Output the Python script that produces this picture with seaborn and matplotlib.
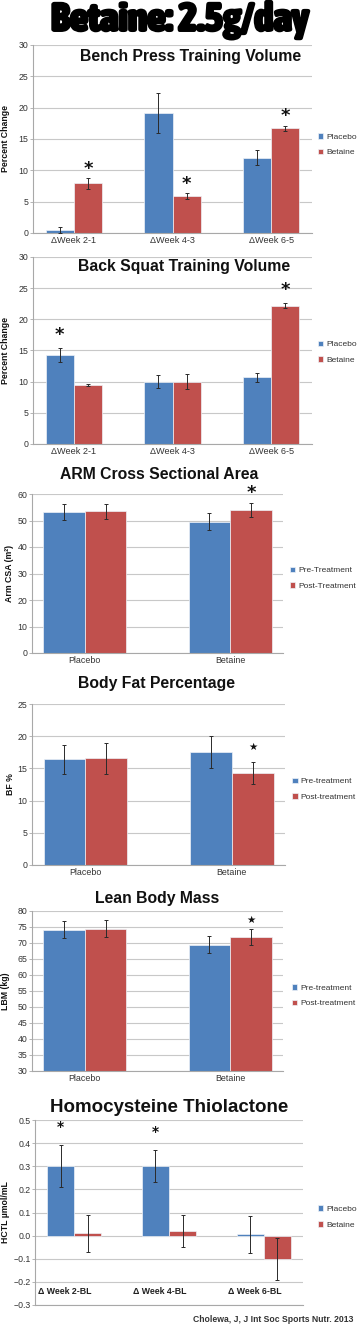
import numpy as np
import pandas as pd
import matplotlib
matplotlib.use('Agg')
import matplotlib.pyplot as plt
import matplotlib.patheffects as pe
from matplotlib import font_manager
import seaborn as sns

# Bench press training volume (percent change)
bench_cats = ['\u0394Week 2-1', '\u0394Week 4-3', '\u0394Week 6-5']
bench_placebo = [0.5, 19.2, 12.0]
bench_placebo_err = [0.5, 3.2, 1.2]
bench_betaine = [7.9, 5.9, 16.7]
bench_betaine_err = [0.8, 0.45, 0.45]
bench_stars = [(1, 0), (1, 1), (1, 2)]

# Back squat training volume (percent change)
squat_cats = ['\u0394Week 2-1', '\u0394Week 4-3', '\u0394Week 6-5']
squat_placebo = [14.3, 10.0, 10.7]
squat_placebo_err = [1.1, 1.0, 0.75]
squat_betaine = [9.5, 10.0, 22.2]
squat_betaine_err = [0.2, 1.2, 0.4]
squat_stars = [(0, 0), (1, 2)]

# Arm cross sectional area
arm_cats = ['Placebo', 'Betaine']
arm_pre = [53.3, 49.5]
arm_pre_err = [3.0, 3.2]
arm_post = [53.4, 54.0]
arm_post_err = [2.8, 2.6]
arm_stars = [(1, 1)]

# Body fat percentage
bf_cats = ['Placebo', 'Betaine']
bf_pre = [16.4, 17.5]
bf_pre_err = [2.3, 2.5]
bf_post = [16.6, 14.3]
bf_post_err = [2.4, 1.7]
bf_stars = [(1, 1)]

# Lean body mass
lbm_cats = ['Placebo', 'Betaine']
lbm_pre = [74.2, 69.5]
lbm_pre_err = [2.65, 2.6]
lbm_post = [74.5, 71.9]
lbm_post_err = [2.7, 2.4]
lbm_stars = [(1, 1)]

# Homocysteine thiolactone
hctl_cats = ['\u0394 Week 2-BL', '\u0394 Week 4-BL', '\u0394 Week 6-BL']
hctl_placebo = [0.30, 0.30, 0.007]
hctl_placebo_err = [0.09, 0.07, 0.08]
hctl_betaine = [0.01, 0.02, -0.10]
hctl_betaine_err = [0.08, 0.07, 0.09]
hctl_stars = [(0, 0), (0, 1)]

BLUE = '#4F81BD'
RED = '#C0504D'
W, H = 360, 1334

sns.set_theme(style='white')
plt.rcParams['font.family'] = ['Liberation Sans', 'DejaVu Sans']


def pick_condensed_font():
    # look for a heavy upright condensed / narrow face for the headline
    best = None
    for f in font_manager.fontManager.ttflist:
        name = f.fname.lower()
        if 'condensed' in name or 'narrow' in name:
            if f.style != 'normal' or 'italic' in name or 'oblique' in name:
                continue
            w = f.weight if isinstance(f.weight, int) else 700 if 'bold' in str(f.weight) else 400
            if best is None or w > best[0]:
                best = (w, f.fname)
    if best is None:
        return font_manager.FontProperties(family='DejaVu Sans', weight='bold')
    return font_manager.FontProperties(fname=best[1])


fig = plt.figure(figsize=(W / 100, H / 100), dpi=100)
fig.patch.set_facecolor('white')


def px_axes(x0, y0, x1, y1):
    return fig.add_axes([x0 / W, 1 - y1 / H, (x1 - x0) / W, (y1 - y0) / H])


def draw_panel(ax, cats, names, vals, errs, stars, star_pad, star_char, star_size,
               ylim, yticks, ylabel, ylabel_x, legend_xy, title, title_xy, title_size,
               cat_size=6.6):
    rows = []
    for name, v in zip(names, vals):
        for c, val in zip(cats, v):
            rows.append({'cat': c, 'group': name, 'value': val})
    df = pd.DataFrame(rows)
    sns.barplot(data=df, x='cat', y='value', hue='group', palette=[BLUE, RED],
                saturation=1, width=0.57, errorbar=None, ax=ax,
                edgecolor='#eef2f8', linewidth=0.5)

    n = len(cats)
    bars = list(ax.patches)
    for i in range(len(names)):
        grp = sorted(bars[i * n:(i + 1) * n], key=lambda b: b.get_x())
        xs = [b.get_x() + b.get_width() / 2 for b in grp]
        ax.errorbar(xs, vals[i], yerr=errs[i], fmt='none', ecolor='#2a2a2a',
                    elinewidth=0.7, capsize=1.6, capthick=0.7, zorder=5)
        for (si, sj) in stars:
            if si == i:
                ax.text(xs[sj], vals[i][sj] + errs[i][sj] + star_pad, star_char,
                        ha='center', va='center', fontsize=star_size,
                        fontweight='bold', color='#111111',
                        family=['DejaVu Sans'])

    ax.set_ylim(*ylim)
    ax.set_yticks(yticks)
    ax.set_xlabel('')
    ax.set_ylabel(ylabel, fontsize=6.3, fontweight='bold', color='#111111')
    ax.yaxis.set_label_coords(ylabel_x, 0.5)
    ax.yaxis.grid(True, color='#c8c8c8', linewidth=0.8)
    ax.set_axisbelow(True)
    for s in ['top', 'right']:
        ax.spines[s].set_visible(False)
    for s in ['left', 'bottom']:
        ax.spines[s].set_color('#a8a8a8')
        ax.spines[s].set_linewidth(0.8)
    ax.tick_params(axis='y', labelsize=6.3, length=2, width=0.6, color='#a8a8a8',
                   pad=1.2, left=True, labelcolor='#333333')
    ax.tick_params(axis='x', labelsize=cat_size, length=0, pad=2.2, labelcolor='#333333')

    leg = ax.legend(loc='center left', bbox_to_anchor=legend_xy, frameon=False,
                    fontsize=6.0, handlelength=0.65, handleheight=0.65,
                    handletextpad=0.3, labelspacing=0.95, borderaxespad=0,
                    borderpad=0)
    for t in leg.get_texts():
        t.set_color('#333333')

    ax.text(title_xy[0], title_xy[1], title, transform=ax.transAxes, ha='center',
            va='center', fontsize=title_size, fontweight='bold', color='#111111',
            clip_on=False)


# main title
head_font = pick_condensed_font()
head_font.set_size(29)
fig.text(0.5, 1 - 20 / H, 'Betaine: 2.5g/day', ha='center', va='center',
         fontproperties=head_font, color='black',
         path_effects=[pe.withStroke(linewidth=1.4, foreground='black')])

ax1 = px_axes(33, 45, 312, 233)
draw_panel(ax1, bench_cats, ['Placebo', 'Betaine'],
           [bench_placebo, bench_betaine], [bench_placebo_err, bench_betaine_err],
           bench_stars, 1.5, '*', 13, (0, 30), range(0, 31, 5), 'Percent Change',
           -0.082, (1.0215, 0.47), 'Bench Press Training Volume', (0.563, 0.94), 11.3)

ax2 = px_axes(33, 257, 312, 444)
draw_panel(ax2, squat_cats, ['Placebo', 'Betaine'],
           [squat_placebo, squat_betaine], [squat_placebo_err, squat_betaine_err],
           squat_stars, 2.1, '*', 13, (0, 30), range(0, 31, 5), 'Percent Change',
           -0.082, (1.0215, 0.49), 'Back Squat Training Volume', (0.54, 0.95), 11.3)

ax3 = px_axes(32, 494, 283, 653)
draw_panel(ax3, arm_cats, ['Pre-Treatment', 'Post-Treatment'],
           [arm_pre, arm_post], [arm_pre_err, arm_post_err],
           arm_stars, 3.9, '*', 13, (0, 60), range(0, 61, 10), 'Arm CSA (m\u00b2)',
           -0.072, (1.028, 0.47), 'ARM Cross Sectional Area', (0.506, 1.12), 11.3,
           cat_size=6.4)

ax4 = px_axes(32, 704, 285, 865)
draw_panel(ax4, bf_cats, ['Pre-treatment', 'Post-treatment'],
           [bf_pre, bf_post], [bf_pre_err, bf_post_err],
           bf_stars, 2.3, '\u2605', 7.5, (0, 25), range(0, 26, 5), 'BF %',
           -0.067, (1.028, 0.47), 'Body Fat Percentage', (0.494, 1.13), 11.3,
           cat_size=6.4)

ax5 = px_axes(32, 911, 283, 1071)
draw_panel(ax5, lbm_cats, ['Pre-treatment', 'Post-treatment'],
           [lbm_pre, lbm_post], [lbm_pre_err, lbm_post_err],
           lbm_stars, 2.8, '\u2605', 7.5, (30, 80), range(30, 81, 5), 'LBM (kg)',
           -0.088, (1.036, 0.47), 'Lean Body Mass', (0.498, 1.08), 11.3,
           cat_size=6.4)

ax6 = px_axes(35, 1120, 303, 1305)
draw_panel(ax6, hctl_cats, ['Placebo', 'Betaine'],
           [hctl_placebo, hctl_betaine], [hctl_placebo_err, hctl_betaine_err],
           hctl_stars, 0.08, '*', 10, (-0.3, 0.5), np.round(np.arange(-0.3, 0.51, 0.1), 1),
           'HCTL \u00b5mol/mL', -0.093, (1.056, 0.475), 'Homocysteine Thiolactone',
           (0.5, 1.065), 13.5)
ax6.set_xticklabels([])
for i, c in enumerate(hctl_cats):
    ax6.text(i - 0.1, -0.243, c, ha='center', va='center', fontsize=6.3,
             fontweight='bold', color='#222222')

fig.text(353 / W, 1 - 1319 / H, 'Cholewa, J, J Int Soc Sports Nutr. 2013',
         ha='right', va='center', fontsize=6.2, fontweight='bold', color='#333333')

fig.savefig('out.png', dpi=100, facecolor='white')
